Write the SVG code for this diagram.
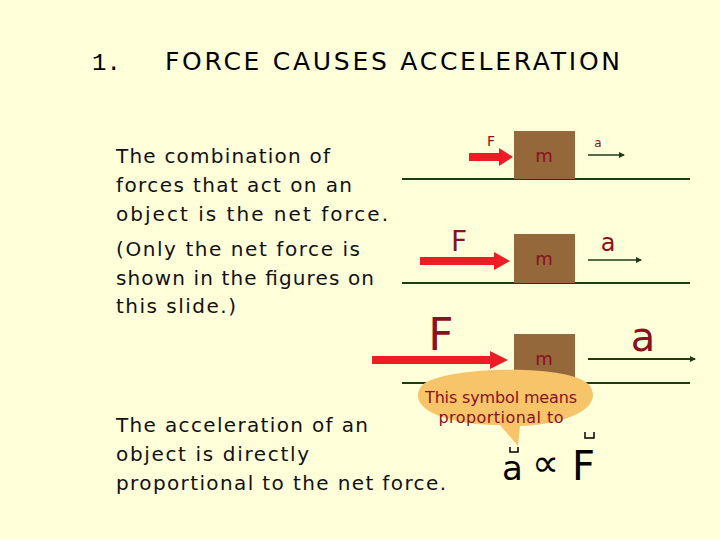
<svg xmlns="http://www.w3.org/2000/svg" width="720" height="540" viewBox="0 0 720 540">
<style>
.t{font-family:"DejaVu Sans",sans-serif;fill:#8b1020}
.b{font-family:"DejaVu Sans",sans-serif;fill:#000}
.box{fill:#94683a}
.gl{stroke:#1a3d14;stroke-width:2}
.aa{stroke:#1a3d14;fill:none}
</style>
<defs>
<marker id="ah" markerWidth="6" markerHeight="6" refX="5" refY="3" orient="auto" markerUnits="userSpaceOnUse"><path d="M0,0L6,3L0,6z" fill="#1a3d14"/></marker>
</defs>
<rect width="720" height="540" fill="#ffffd9"/>
<text x="92" y="70" font-size="24" style="font-family:'Liberation Mono',monospace">1.</text>
<text class="b" x="165" y="70" font-size="25" textLength="455" lengthAdjust="spacing">FORCE CAUSES ACCELERATION</text>
<g id="intro" class="b" font-size="20" style="fill:#111">
<text x="116" y="163" textLength="214">The combination of</text>
<text x="116" y="192" textLength="236">forces that act on an</text>
<text x="116" y="221" textLength="272">object is the net force.</text>
<text x="116" y="256" textLength="244">(Only the net force is</text>
<text x="116" y="285" textLength="258">shown in the figures on</text>
<text x="116" y="313" textLength="120">this slide.)</text>
</g>
<g id="conclusion" class="b" font-size="20" style="fill:#111">
<text x="116" y="432" textLength="252">The acceleration of an</text>
<text x="116" y="461" textLength="193">object is directly</text>
<text x="116" y="490" textLength="330">proportional to the net force.</text>
</g>
<g id="connectors">
<line class="gl" x1="402" y1="179" x2="690" y2="179"/>
<line class="gl" x1="402" y1="283" x2="690" y2="283"/>
<line class="gl" x1="402" y1="383" x2="690" y2="383"/>
<path d="M469,153h30v-5l14,9l-14,9v-5h-30z" fill="#ee1c24"/>
<path d="M420,257h74v-5l16,9l-16,9v-5h-74z" fill="#ee1c24"/>
<path d="M372,356h118v-5l18,9l-18,9v-5h-118z" fill="#ee1c24"/>
<line class="aa" x1="588" y1="155" x2="624" y2="155" stroke-width="1.5" marker-end="url(#ah)"/>
<line class="aa" x1="588" y1="260" x2="641" y2="260" stroke-width="1.5" marker-end="url(#ah)"/>
<line class="aa" x1="588" y1="359" x2="695" y2="359" stroke-width="2" marker-end="url(#ah)"/>
</g>
<g id="box1"><rect class="box" x="514" y="131" width="61" height="48"/><text class="t" x="544" y="162" font-size="18" text-anchor="middle">m</text></g>
<g id="box2"><rect class="box" x="514" y="234" width="61" height="49"/><text class="t" x="544" y="265" font-size="18" text-anchor="middle">m</text></g>
<g id="box3"><rect class="box" x="514" y="334" width="61" height="49"/><text class="t" x="544" y="365" font-size="18" text-anchor="middle">m</text></g>
<g id="labels">
<text class="t" x="491" y="146" font-size="14" text-anchor="middle">F</text>
<text class="t" x="598" y="147" font-size="12" text-anchor="middle">a</text>
<text class="t" x="459" y="251" font-size="28" text-anchor="middle">F</text>
<text class="t" x="608" y="251" font-size="24" text-anchor="middle">a</text>
<text class="t" x="441" y="350" font-size="44" text-anchor="middle">F</text>
<text class="t" x="643" y="351" font-size="40" text-anchor="middle">a</text>
</g>
<g id="bubble">
<path d="M420,388 C430,366 575,362 590,386 C605,410 560,425 520,426 L518,446 L500,425 C450,425 408,410 420,388z" fill="#f7c469"/>
<text class="t" x="501" y="403" font-size="16" text-anchor="middle" textLength="152">This symbol means</text>
<text class="t" x="501" y="423" font-size="16" text-anchor="middle" textLength="125">proportional to</text>
</g>
<g id="formula" class="b">
<text x="502" y="480" font-size="34">a</text>
<text x="532" y="476" font-size="38">∝</text>
<text x="572" y="480" font-size="40">F</text>
<path d="M510,447v5h8v-5M585,432v6h9v-6" stroke="#000" fill="none" stroke-width="1.5"/>
</g>
</svg>
